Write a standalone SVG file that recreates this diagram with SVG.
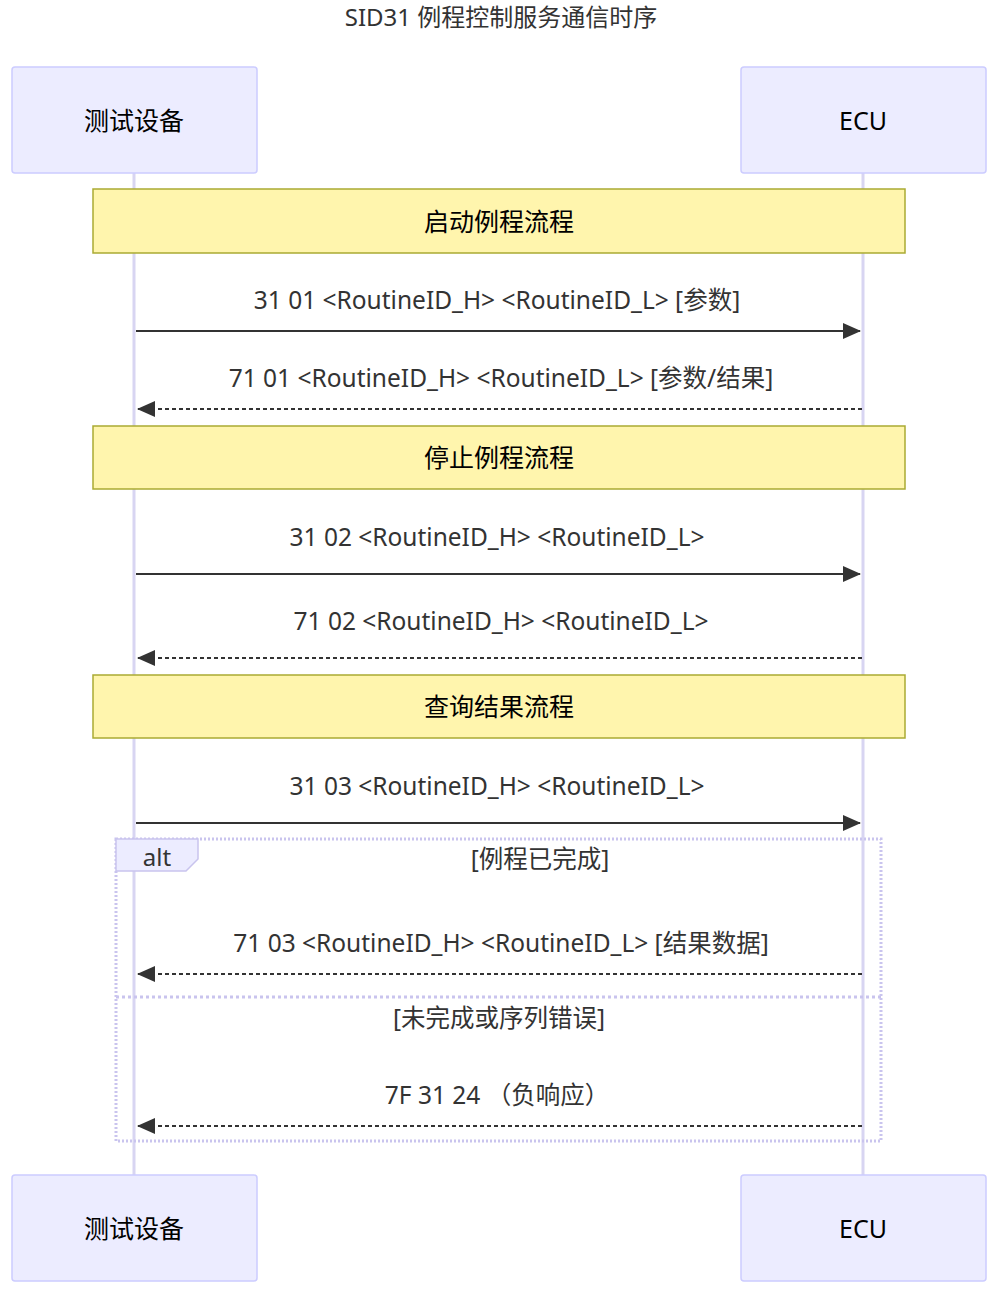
<svg xmlns="http://www.w3.org/2000/svg" width="1001" height="1289" viewBox="0 0 1001 1289">
<style>
text{font-family:"Noto Sans","Noto Sans CJK SC",sans-serif;fill:#333;}
.actor rect{fill:#ECECFF;stroke:#CCCCFF;stroke-width:1.5;}
.actor text{font-size:25px;text-anchor:middle;dominant-baseline:central;fill:#000;}
.note rect{fill:#FFF5AD;stroke:#AAAA33;stroke-width:1.5;}
.note text{font-size:25px;text-anchor:middle;dominant-baseline:central;fill:#000;}
.msg{font-size:24.5px;text-anchor:middle;}
.solid{stroke:#333;stroke-width:2;fill:none;}
.dash{stroke:#333;stroke-width:2;fill:none;stroke-dasharray:4,3;}
.life{stroke:#D8D5F2;stroke-width:3;}
</style>
<defs><marker id="ah" viewBox="0 0 18 16" refX="17" refY="8" markerWidth="18" markerHeight="16" markerUnits="userSpaceOnUse" orient="auto"><path d="M0,0L18,8L0,16z" fill="#333"/></marker></defs>
<text x="501" y="26" font-size="24" text-anchor="middle">SID31 例程控制服务通信时序</text>
<g id="lifelines"><line class="life" x1="134" y1="173" x2="134" y2="1175"/><line class="life" x1="863" y1="173" x2="863" y2="1175"/></g>
<g id="a1" class="actor"><rect x="12" y="67" width="245" height="106" rx="3"/><text x="134" y="120">测试设备</text></g>
<g id="a2" class="actor"><rect x="741" y="67" width="245" height="106" rx="3"/><text x="863" y="120">ECU</text></g>
<g id="a1b" class="actor"><rect x="12" y="1175" width="245" height="106" rx="3"/><text x="134" y="1228">测试设备</text></g>
<g id="a2b" class="actor"><rect x="741" y="1175" width="245" height="106" rx="3"/><text x="863" y="1228">ECU</text></g>
<g id="n1" class="note"><rect x="93" y="189" width="812" height="64"/><text x="499" y="221">启动例程流程</text></g>
<g id="n2" class="note"><rect x="93" y="426" width="812" height="63"/><text x="499" y="457">停止例程流程</text></g>
<g id="n3" class="note"><rect x="93" y="675" width="812" height="63"/><text x="499" y="706">查询结果流程</text></g>
<g id="alt">
<rect x="116" y="839" width="765" height="302" fill="none" stroke="#C9C4EE" stroke-width="3" stroke-dasharray="2,2"/>
<line x1="116" y1="997" x2="881" y2="997" stroke="#C9C4EE" stroke-width="3" stroke-dasharray="3,3"/>
<path d="M116,839H198V859L186,871H116Z" fill="#ECECFF" stroke="#C9C4EE" stroke-width="1.5"/>
<text x="157" y="866" font-size="24" text-anchor="middle">alt</text>
<text x="540" y="868" font-size="24.5" text-anchor="middle">[例程已完成]</text>
<text x="499" y="1027" font-size="24.5" text-anchor="middle">[未完成或序列错误]</text>
</g>
<g id="connectors">
<text class="msg" x="497" y="309">31 01 &lt;RoutineID_H&gt; &lt;RoutineID_L&gt; [参数]</text>
<line class="solid" x1="136" y1="331" x2="860" y2="331" marker-end="url(#ah)"/>
<text class="msg" x="501" y="387">71 01 &lt;RoutineID_H&gt; &lt;RoutineID_L&gt; [参数/结果]</text>
<line class="dash" x1="862" y1="409" x2="138" y2="409" marker-end="url(#ah)"/>
<text class="msg" x="497" y="546">31 02 &lt;RoutineID_H&gt; &lt;RoutineID_L&gt;</text>
<line class="solid" x1="136" y1="574" x2="860" y2="574" marker-end="url(#ah)"/>
<text class="msg" x="501" y="630">71 02 &lt;RoutineID_H&gt; &lt;RoutineID_L&gt;</text>
<line class="dash" x1="862" y1="658" x2="138" y2="658" marker-end="url(#ah)"/>
<text class="msg" x="497" y="795">31 03 &lt;RoutineID_H&gt; &lt;RoutineID_L&gt;</text>
<line class="solid" x1="136" y1="823" x2="860" y2="823" marker-end="url(#ah)"/>
<text class="msg" x="501" y="952">71 03 &lt;RoutineID_H&gt; &lt;RoutineID_L&gt; [结果数据]</text>
<line class="dash" x1="862" y1="974" x2="138" y2="974" marker-end="url(#ah)"/>
<text class="msg" x="497" y="1104">7F 31 24 （负响应）</text>
<line class="dash" x1="862" y1="1126" x2="138" y2="1126" marker-end="url(#ah)"/>
</g>
</svg>
